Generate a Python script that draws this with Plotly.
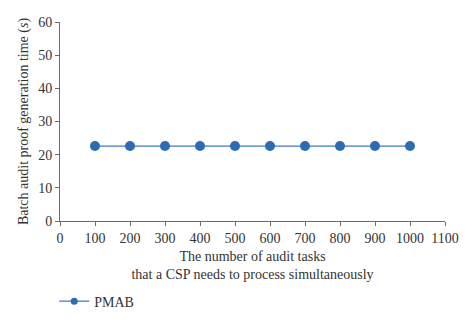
import plotly.graph_objects as go

# Number of audit tasks a CSP processes at once, and the batch proof time (s)
tasks = [100, 200, 300, 400, 500, 600, 700, 800, 900, 1000]
pmab_time = [22.6, 22.6, 22.6, 22.6, 22.6, 22.6, 22.6, 22.6, 22.6, 22.6]

x_ticks = list(range(0, 1101, 100))
y_ticks = list(range(0, 61, 10))

font_family = "Liberation Serif, Times New Roman, serif"
axis_color = "#6b6b6b"
text_color = "#333333"
line_color = "#3f78bd"
marker_color = "#2b6cb3"

fig = go.Figure()
fig.add_trace(go.Scatter(
    x=tasks, y=pmab_time, mode="lines+markers", name="PMAB",
    line=dict(color=line_color, width=1.2),
    marker=dict(color=marker_color, size=10),
    showlegend=False,
))
# legend key with a smaller marker than the plotted points
fig.add_trace(go.Scatter(
    x=[None], y=[None], mode="lines+markers", name="PMAB",
    line=dict(color=line_color, width=1.2),
    marker=dict(color=marker_color, size=7),
))

fig.update_layout(
    width=474, height=323,
    margin=dict(l=60, r=29, t=22, b=102, autoexpand=False),
    paper_bgcolor="white", plot_bgcolor="white",
    font=dict(family=font_family, size=14, color=text_color),
    showlegend=True,
    legend=dict(x=-0.015, y=-0.405, xanchor="left", yanchor="middle",
                itemwidth=30,
                font=dict(size=14, color=text_color), bgcolor="rgba(0,0,0,0)"),
    xaxis=dict(
        range=[0, 1100], tickvals=x_ticks, ticktext=[str(v) for v in x_ticks],
        showgrid=False, zeroline=False, showline=True, linecolor=axis_color,
        linewidth=1, ticks="outside", ticklen=4, tickcolor=axis_color,
        tickfont=dict(size=14),
        title=dict(text="The number of audit tasks<br>that a CSP needs to process simultaneously",
                   font=dict(size=14), standoff=6),
    ),
    yaxis=dict(
        range=[0, 60], tickvals=y_ticks,
        showgrid=False, zeroline=False, showline=True, linecolor=axis_color,
        linewidth=1, ticks="outside", ticklen=4, tickcolor=axis_color,
        tickfont=dict(size=14),
        title=dict(text="Batch audit proof generation time (<i>s</i>)",
                   font=dict(size=14), standoff=6),
    ),
)

fig.write_html("out.html")
